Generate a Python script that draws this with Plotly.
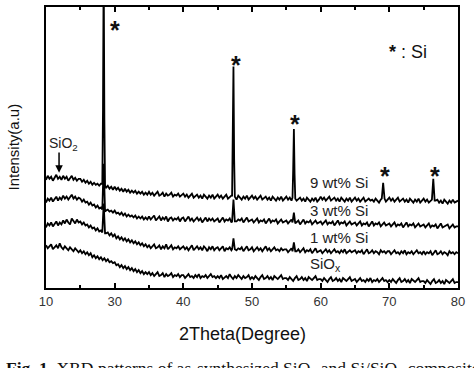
import numpy as np
import plotly.graph_objects as go

# 2-theta grid (0.25 degree sampling)
two_theta = np.arange(20, 80.001, 0.25)

siox = [43,40,42,44,39,41,43,40,45,41,39,42,40,38,41,39,37,40,38,36,
        38,35,37,34,36,33,35,31,33,30,32,29,31,28,30,27,29,26,27,25,
        26,23,24,21,23,20,22,19,21,18,20,17,19,16,18,15,17,14,16,14,
        16,13,15,12,14,16,12,13,15,11,14,12,13,15,11,13,12,14,11,13,
        13,10,12,14,11,12,10,13,11,14,10,12,11,13,10,12,14,11,12,10,
        12,10,13,9,11,12,10,14,11,9,12,10,13,11,9,12,10,11,13,9,
        11,9,12,10,8,11,13,9,10,12,9,11,8,12,10,9,11,13,9,10,
        10,8,11,9,7,10,12,8,9,11,8,10,7,11,9,8,10,12,8,9,
        9,7,10,8,6,9,11,7,8,10,7,9,6,10,8,7,9,11,7,8,
        9,6,8,10,7,8,6,9,7,10,6,8,7,9,6,8,10,7,8,6,
        8,6,9,7,5,8,10,6,7,9,6,8,5,9,7,6,8,10,6,7,
        7,5,8,6,4,7,9,5,6,8,5,7,4,8,6,5,7,9,5,6,
        6]
si1 = [61,65,63,66,62,64,67,63,66,64,68,65,69,66,64,70,67,65,69,66,
       67,64,66,63,64,61,63,60,61,58,60,57,58,56,57,55,56,53,55,52,
       54,50,52,49,51,48,50,47,49,46,48,45,47,44,46,43,45,42,44,41,
       43,40,42,44,40,41,43,39,42,40,44,39,41,43,39,41,40,42,39,41,
       42,39,41,38,40,43,38,40,42,39,41,38,42,40,37,41,39,42,38,40,
       41,38,40,42,37,40,39,41,38,40,42,38,40,39,41,37,40,42,38,39,
       41,37,39,41,38,40,37,39,42,38,40,37,39,41,38,39,37,40,38,39,
       39,36,38,40,36,38,37,39,36,38,40,36,38,37,39,35,38,40,36,37,
       38,35,37,39,36,38,35,37,39,36,37,35,38,36,39,35,37,38,36,37,
       38,35,37,36,38,34,37,39,35,36,38,35,37,36,34,38,36,37,35,37,
       37,34,36,38,35,36,34,37,35,38,34,36,35,37,34,36,38,35,36,34,
       37,34,36,35,37,33,36,38,34,35,37,34,36,35,33,37,35,36,34,36,
       35]
si3 = [86,90,88,91,87,89,92,88,91,89,93,90,92,89,91,94,90,92,89,91,
       90,87,89,86,87,84,86,83,84,81,83,80,81,79,80,78,79,77,78,76,
       78,75,76,74,76,73,75,72,74,72,73,71,73,70,72,70,72,69,71,69,
       72,69,71,73,68,70,72,68,71,69,72,67,70,71,68,70,69,71,67,70,
       71,67,69,72,68,70,67,69,71,68,70,66,69,71,67,70,68,70,67,69,
       70,66,69,71,67,69,68,70,66,68,70,67,69,68,70,66,69,71,67,68,
       69,66,68,70,66,68,67,69,65,68,70,66,68,67,69,65,67,69,66,67,
       68,65,67,69,65,67,66,68,64,67,69,65,67,66,68,64,66,68,65,66,
       67,64,66,68,64,66,65,67,63,66,68,64,66,65,67,63,65,67,64,65,
       66,63,65,67,63,65,64,66,62,65,67,63,65,64,66,62,64,66,63,64,
       65,62,64,66,62,64,63,65,61,64,66,62,64,63,65,61,63,65,62,63,
       64,61,63,65,61,63,62,64,60,63,65,61,62,63,64,60,62,64,61,62,
       62]
si9 = [109,113,110,112,108,111,114,110,112,109,113,110,112,108,111,113,109,111,108,110,
       110,107,109,106,108,105,107,104,106,104,105,103,105,102,104,101,103,100,102,99,
       102,99,101,98,100,97,100,97,99,96,98,96,98,95,97,95,97,94,96,94,
       97,94,96,93,95,97,93,94,96,92,95,93,94,96,92,94,93,95,92,94,
       95,92,94,91,93,95,91,93,94,91,93,90,94,92,90,93,91,94,90,92,
       94,91,93,90,92,94,90,92,93,90,92,89,93,91,89,92,90,93,89,91,
       93,90,92,89,91,93,89,91,92,89,91,88,92,90,88,91,89,92,88,90,
       92,89,91,88,90,92,88,90,91,88,90,87,91,89,87,90,88,91,87,89,
       92,89,91,88,90,92,88,90,91,88,90,87,91,89,87,90,88,91,87,89,
       91,88,90,87,89,91,87,89,90,88,89,87,90,88,86,89,88,90,87,89,
       91,88,90,87,89,91,87,89,90,87,89,86,90,88,86,89,87,90,86,88,
       90,87,89,86,88,90,86,88,89,86,88,85,89,87,85,88,86,89,86,87,
       88]

# peak profiles: (2theta, intensity) points
peaks_siox = []
peaks_1 = [[(28.2, 56), (28.4, 85), (28.6, 55)],
           [(47.1, 39), (47.3, 50), (47.5, 39)],
           [(55.9, 37), (56.1, 46), (56.3, 37)]]
peaks_3 = [[(28.2, 79), (28.4, 125), (28.6, 77)],
           [(47.1, 67), (47.3, 89), (47.5, 67)],
           [(55.9, 66), (56.1, 76), (56.3, 65)]]
peaks_9 = [[(28.2, 105), (28.3, 180), (28.4, 330), (28.5, 170), (28.6, 103)],
           [(47.1, 93), (47.2, 140), (47.3, 223), (47.4, 130), (47.5, 92)],
           [(55.9, 91), (56.0, 120), (56.1, 160), (56.2, 115), (56.3, 90)],
           [(68.9, 90), (69.1, 106), (69.3, 90)],
           [(76.2, 89), (76.4, 110), (76.6, 88)]]

series = [("SiOx", siox, peaks_siox), ("1 wt% Si", si1, peaks_1),
          ("3 wt% Si", si3, peaks_3), ("9 wt% Si", si9, peaks_9)]

tick_vals = [20, 30, 40, 50, 60, 70, 80]
tick_text = ["10", "30", "40", "50", "60", "70", "80"]

# Si reflection markers (2theta, height)
star_x = [30.0, 47.6, 56.2, 69.3, 76.6]
star_y = [260, 225, 165, 113, 113]

FONT = "Liberation Sans, Arial, sans-serif"


def merge(base, peaks):
    pts = list(zip(two_theta.tolist(), base))
    for pk in peaks:
        lo, hi = pk[0][0], pk[-1][0]
        pts = [p for p in pts if not (lo - 1e-9 <= p[0] <= hi + 1e-9)]
        pts += pk
    pts.sort(key=lambda p: p[0])
    return [p[0] for p in pts], [p[1] for p in pts]


fig = go.Figure()
for name, base, pk in series:
    xs, ys = merge(base, pk)
    fig.add_trace(go.Scatter(x=xs, y=ys, mode="lines", name=name,
                             line=dict(color="black", width=1.8),
                             showlegend=False, hoverinfo="skip"))

ann = []
for sx, sy in zip(star_x, star_y):
    ann.append(dict(x=sx, y=sy, xref="x", yref="y", text="<b>*</b>", showarrow=False,
                    font=dict(size=25, color="#111", family=FONT)))

lab_font = dict(size=15, color="#222", family=FONT)
ann += [
    dict(x=58.1, y=106, xref="x", yref="y", text="9 wt% Si", xanchor="left", showarrow=False, font=lab_font),
    dict(x=58.1, y=78, xref="x", yref="y", text="3 wt% Si", xanchor="left", showarrow=False, font=lab_font),
    dict(x=58.1, y=51, xref="x", yref="y", text="1 wt% Si", xanchor="left", showarrow=False, font=lab_font),
    dict(x=58.1, y=24, xref="x", yref="y", text="SiO<sub>x</sub>", xanchor="left", showarrow=False, font=lab_font),
    dict(x=22.5, y=145, xref="x", yref="y", text="SiO<sub>2</sub>", showarrow=False,
         font=dict(size=14, color="#222", family=FONT)),
    dict(x=21.9, y=116, xref="x", yref="y", ax=21.9, ay=138, axref="x", ayref="y", text="",
         showarrow=True, arrowhead=2, arrowsize=1, arrowwidth=1.5, arrowcolor="black"),
    dict(x=72.7, y=238, xref="x", yref="y", text="<b>*</b> : Si", showarrow=False,
         font=dict(size=18, color="#111", family=FONT)),
    dict(x=0, y=0.5, xref="paper", yref="paper", xshift=-33, xanchor="center", yanchor="middle",
         text="Intensity(a.u)", textangle=-90,
         showarrow=False, font=dict(size=15, color="#111", family=FONT)),
    dict(x=0.478, y=0, xref="paper", yref="paper", yshift=-46, xanchor="center", yanchor="middle",
         text="2Theta(Degree)",
         showarrow=False, font=dict(size=18, color="#111", family=FONT)),
    dict(x=0, y=0, xref="paper", yref="paper", xshift=-42, yshift=-68, xanchor="left", yanchor="top",
         text="<b>Fig. 1.</b> XRD patterns of as-synthesized SiO<sub>x</sub> and Si/SiO<sub>x</sub> composites",
         showarrow=False, font=dict(size=17.5, color="#111", family="Liberation Serif, Times New Roman, serif")),
]

fig.update_layout(
    width=474, height=368,
    margin=dict(l=46, r=16, t=5, b=80),
    paper_bgcolor="white", plot_bgcolor="white",
    font=dict(family=FONT),
    annotations=ann,
    hovermode=False,
    xaxis=dict(range=[20, 80], tickvals=tick_vals, ticktext=tick_text,
               ticks="inside", ticklen=5, tickwidth=2, tickcolor="black",
               minor=dict(ticks="inside", ticklen=3, tickwidth=2, dtick=5, tick0=20, tickcolor="black"),
               showline=True, linewidth=2, linecolor="black", mirror="ticks",
               showgrid=False, zeroline=False,
               tickfont=dict(size=13, color="#333", family=FONT)),
    yaxis=dict(range=[0, 283], showticklabels=False, ticks="",
               showline=True, linewidth=2, linecolor="black", mirror=True,
               showgrid=False, zeroline=False),
)

fig.write_html("out.html", config={"displayModeBar": False},
               post_script="document.body.style.margin='0';document.body.style.overflow='hidden';")
